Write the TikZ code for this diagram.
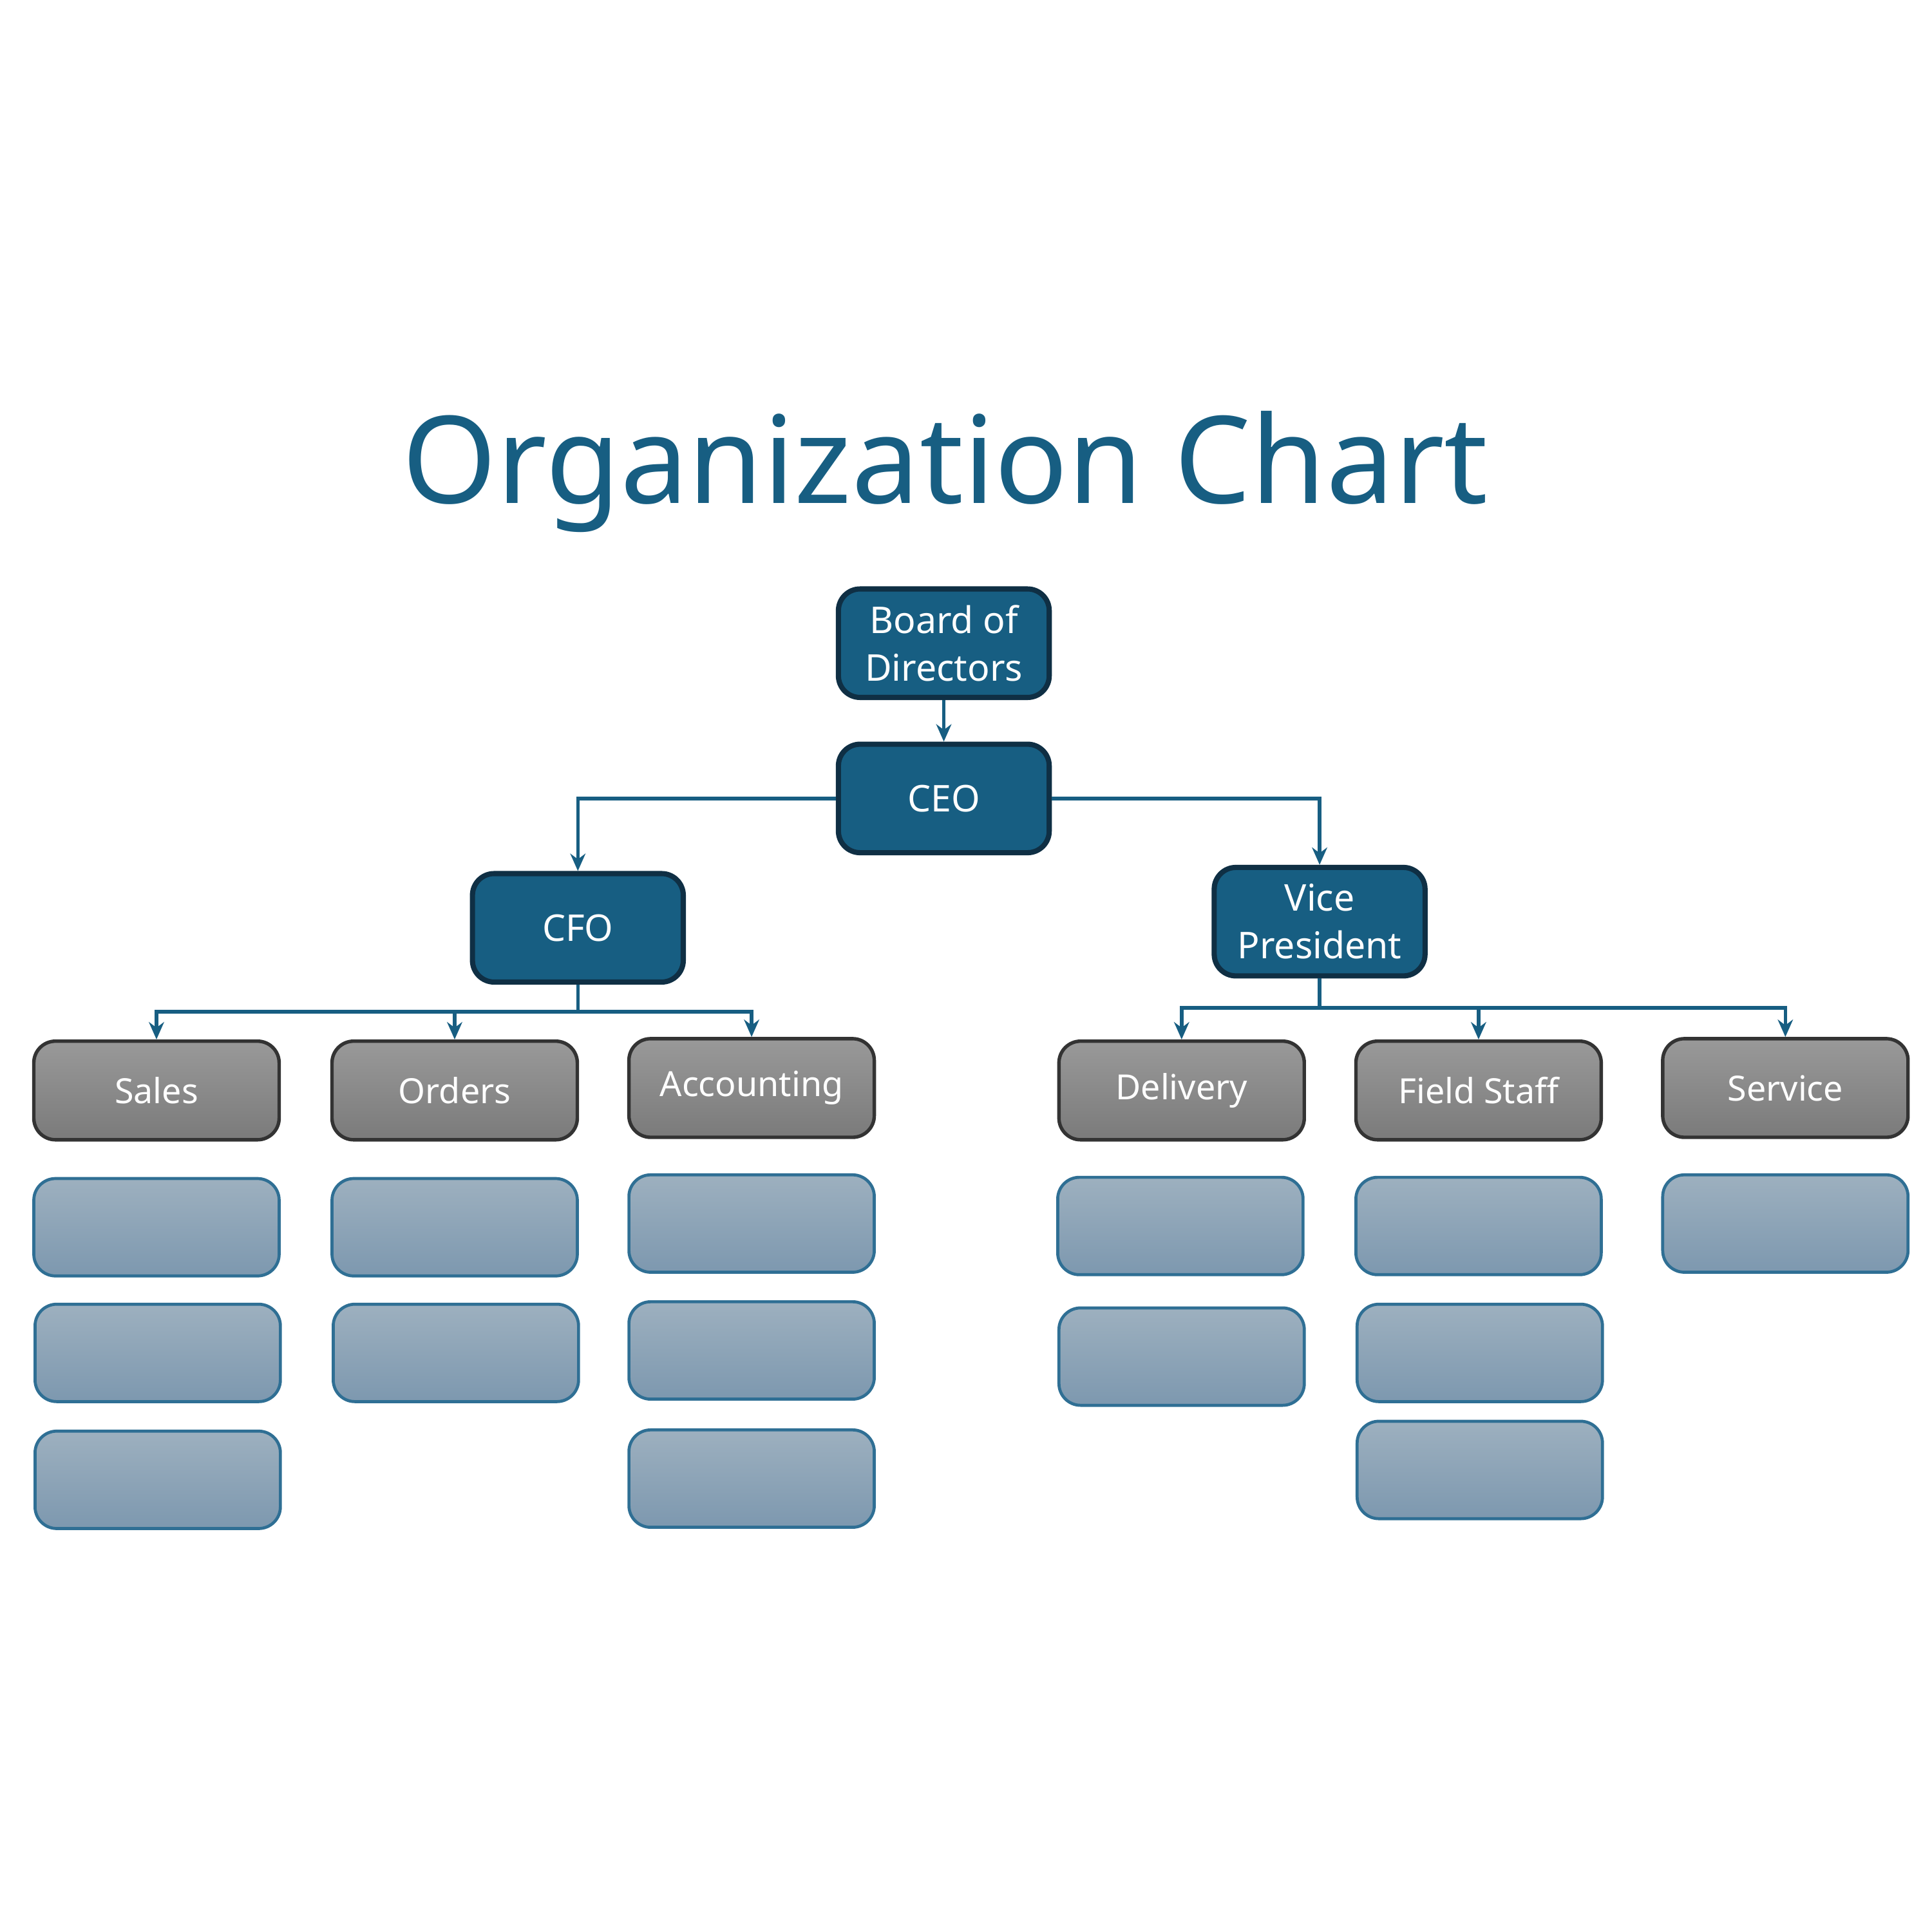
\documentclass[tikz,border=0pt]{standalone}
\usepackage{fontspec}
\setmainfont{Noto Sans}
\usetikzlibrary{arrows.meta}
\definecolor{navy}{HTML}{175E82}
\definecolor{navyd}{HTML}{0F2F44}
\definecolor{edgeb}{HTML}{2F6F94}
\tikzset{
 exec/.style={draw=navyd,line width=1.2pt,fill=navy,rounded corners=5pt,minimum width=1.71cm,minimum height=0.88cm,text=white,font=\fontsize{8.5}{11}\selectfont,align=center,inner sep=0pt},
 dept/.style={draw=black!80,line width=0.8pt,top color=black!40,bottom color=black!52,rounded corners=5pt,minimum width=1.99cm,minimum height=0.80cm,text=white,font=\bfseries\fontsize{8}{10}\selectfont,inner sep=0pt},
 sub/.style={draw=edgeb,line width=0.7pt,top color=HTML9DB0BF,bottom color=HTML7D98AF,rounded corners=5pt,minimum width=1.99cm,minimum height=0.79cm,inner sep=0pt},
 conn/.style={draw=navy,line width=0.8pt,-{Stealth[length=4pt,width=3.5pt]}},
}
\colorlet{HTML9DB0BF}{white}
\definecolor{HTML9DB0BF}{HTML}{9DB0BF}
\definecolor{HTML7D98AF}{HTML}{7D98AF}
\begin{document}
\begin{tikzpicture}[x=0.01cm,y=-0.01cm]
\useasboundingbox (0,0) rectangle (1568,1568);
\node[text=navy,font=\fontsize{28}{32}\selectfont] (title) at (767,383) {Organization Chart};
\node[exec] (bod) at (766,522) {Board of\\Directors};
\node[exec] (ceo) at (766,648) {CEO};
\node[exec] (cfo) at (469,753) {CFO};
\node[exec] (vp) at (1071,748) {Vice\\President};
\node[dept] (sales) at (127,885) {Sales};
\node[dept] (orders) at (369,885) {Orders};
\node[dept] (acc) at (610,883) {Accounting};
\node[dept] (del) at (959,885) {Delivery};
\node[dept] (field) at (1200,885) {Field Staff};
\node[dept] (serv) at (1449,883) {Service};
\node[sub] (s1) at (127,996) {};
\node[sub] (s2) at (128,1098) {};
\node[sub] (s3) at (128,1201) {};
\node[sub] (o1) at (369,996) {};
\node[sub] (o2) at (370,1098) {};
\node[sub] (a1) at (610,993) {};
\node[sub] (a2) at (610,1096) {};
\node[sub] (a3) at (610,1200) {};
\node[sub] (d1) at (958,995) {};
\node[sub] (d2) at (959,1101) {};
\node[sub] (f1) at (1200,995) {};
\node[sub] (f2) at (1201,1098) {};
\node[sub] (f3) at (1201,1193) {};
\node[sub] (v1) at (1449,993) {};
\coordinate (cb) at (469,821);
\coordinate (vb) at (1071,818);
\draw[conn] (bod) -- (ceo);
\draw[conn] (ceo.west) -| (cfo.north);
\draw[conn] (ceo.east) -| (vp.north);
\draw[navy,line width=0.8pt] (cfo.south) -- (cb);
\draw[navy,line width=0.8pt] (vp.south) -- (vb);
\draw[conn] (cb) -| (sales.north);
\draw[conn] (cb) -| (orders.north);
\draw[conn] (cb) -| (acc.north);
\draw[conn] (vb) -| (del.north);
\draw[conn] (vb) -| (field.north);
\draw[conn] (vb) -| (serv.north);
\end{tikzpicture}
\end{document}
